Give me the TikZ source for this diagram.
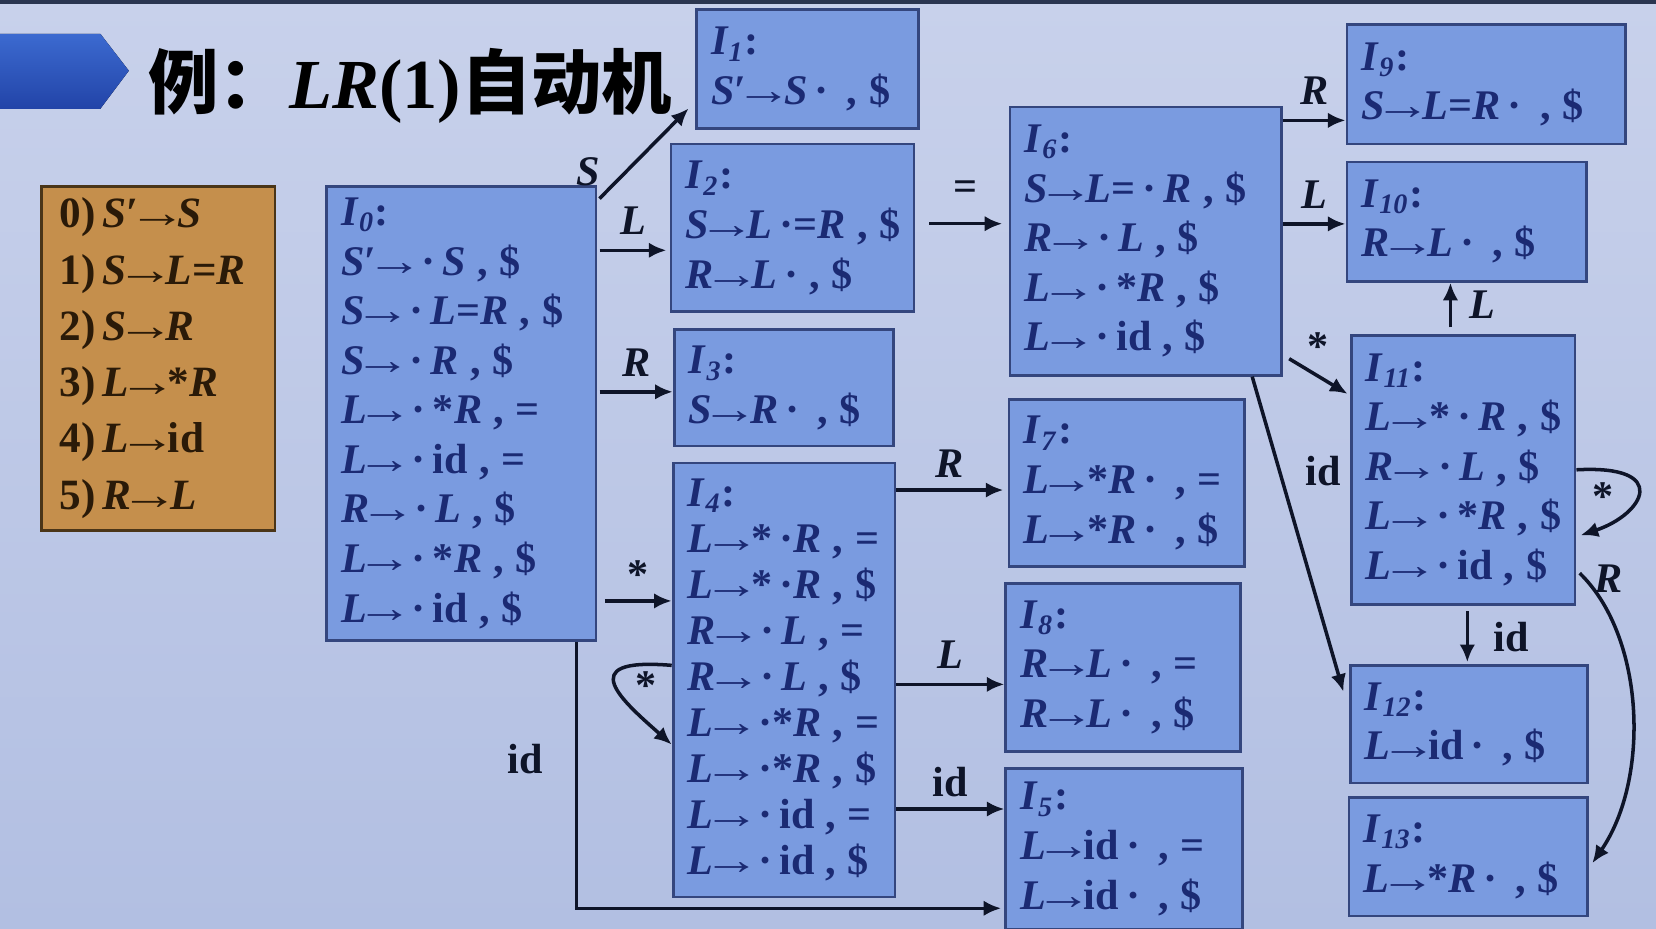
\documentclass[tikz,border=0pt]{standalone}
\usepackage{fontspec}
\setmainfont{Liberation Serif}
\newfontfamily\cjk{Noto Sans CJK SC}
\usetikzlibrary{positioning,calc,arrows.meta}

\definecolor{bgTop}{HTML}{C8D1EB}
\definecolor{bgBot}{HTML}{B2BFE2}
\definecolor{topLine}{HTML}{2A3550}
\definecolor{boxFill}{HTML}{7A9BE0}
\definecolor{boxLine}{HTML}{34467E}
\definecolor{boxInk}{HTML}{1B2A73}
\definecolor{ruleFill}{HTML}{C58F4C}
\definecolor{ruleLine}{HTML}{4A3518}
\definecolor{ruleInk}{HTML}{2A1A08}
\definecolor{bannerTop}{HTML}{3C6AD0}
\definecolor{bannerBot}{HTML}{2244A8}
\definecolor{arrowInk}{HTML}{0E1428}

\newdimen\pxu
\pxu=0.01056cm

\newcommand{\nS}{\textit{S}}
\newcommand{\nL}{\textit{L}}
\newcommand{\nR}{\textit{R}}
\newcommand{\nSp}{\textit{S}′}
\newcommand{\gto}{\kern-3pt\scalebox{1.35}[1]{→}\kern-2.5pt}
\newcommand{\dt}{\,·\,}
\newcommand{\la}[1]{\kern3.2pt,\kern3.3pt#1}
\newcommand{\iset}[1]{\textit{I}\textsubscript{\textit{#1}}:}

\tikzset{
  itemSet/.style 2 args={rectangle, draw=boxLine, fill=boxFill, line width=0.8pt,
    anchor=north west, minimum width={#1*\pxu}, minimum height={#2*\pxu},
    text width={(#1-28)*\pxu}, inner xsep={14*\pxu}, align=left, text=boxInk},
  rules/.style={itemSet={221}{325}, draw=ruleLine, fill=ruleFill, text=ruleInk,
    text width={(221-34)*\pxu}, inner xsep={17*\pxu},
    font=\fontsize{12.3}{16}\selectfont\bfseries},
  goOp/.style={-{Latex[length=5pt,width=4.4pt]}, line width=1pt, draw=arrowInk},
  lbl/.style={text=arrowInk, inner sep=1pt}
}

\begin{document}
\begin{tikzpicture}[x=0.01056cm, y=-0.01056cm, font=\fontsize{12}{14.1}\selectfont\bfseries]

  \useasboundingbox (0,0) rectangle (1568,879);
  \fill[top color=bgTop, bottom color=bgBot] (0,0) rectangle (1568,879);
  \fill[topLine] (0,0) rectangle (1568,4);

  % title
  \fill[top color=bannerTop, bottom color=bannerBot] (0,32) -- (95,32) -- (122,67) -- (95,103) -- (0,103) -- cycle;
  \node[anchor=base west, inner sep=0, font=\fontsize{20}{24}\selectfont\bfseries] (title) at (140,103)
    {{\cjk 例：}\textit{LR}(1){\cjk 自动机}};

  % grammar
  \node[rules] (gram) at (38,175) {0)\kern2pt\nSp\gto\nS\\ 1)\kern2pt\nS\gto\nL=\nR\\ 2)\kern2pt\nS\gto\nR\\ 3)\kern2pt\nL\gto*\nR\\ 4)\kern2pt\nL\gto id\\ 5)\kern2pt\nR\gto\nL};

  % item sets
  \node[itemSet={255}{427}] (I0) at (308,175) {\iset{0}\\ \nSp\gto\dt\nS\la{\$}\\ \nS\gto\dt\nL=\nR\la{\$}\\ \nS\gto\dt\nR\la{\$}\\ \nL\gto\dt*\nR\la{=}\\ \nL\gto\dt id\la{=}\\ \nR\gto\dt\nL\la{\$}\\ \nL\gto\dt*\nR\la{\$}\\ \nL\gto\dt id\la{\$}};
  \node[itemSet={210}{112}] (I1) at (658,8) {\iset{1}\\ \nSp\gto\nS\dt\la{\$}};
  \node[itemSet={230}{159}] (I2) at (634,135) {\iset{2}\\ \nS\gto\nL\,·=\nR\la{\$}\\ \nR\gto\nL\,·\la{\$}};
  \node[itemSet={208}{110}] (I3) at (637,311) {\iset{3}\\ \nS\gto\nR\dt\la{\$}};
  \node[itemSet={210}{411}, font=\fontsize{12}{13.1}\selectfont\bfseries] (I4) at (636,437) {\iset{4}\\ \nL\gto*\,·\nR\la{=}\\ \nL\gto*\,·\nR\la{\$}\\ \nR\gto\dt\nL\la{=}\\ \nR\gto\dt\nL\la{\$}\\ \nL\gto\,·*\nR\la{=}\\ \nL\gto\,·*\nR\la{\$}\\ \nL\gto\dt id\la{=}\\ \nL\gto\dt id\la{\$}};
  \node[itemSet={224}{153}] (I5) at (951,726) {\iset{5}\\ \nL\gto id\dt\la{=}\\ \nL\gto id\dt\la{\$}};
  \node[itemSet={257}{254}] (I6) at (955,100) {\iset{6}\\ \nS\gto\nL=\dt\nR\la{\$}\\ \nR\gto\dt\nL\la{\$}\\ \nL\gto\dt*\nR\la{\$}\\ \nL\gto\dt id\la{\$}};
  \node[itemSet={223}{158}] (I7) at (954,377) {\iset{7}\\ \nL\gto*\nR\dt\la{=}\\ \nL\gto*\nR\dt\la{\$}};
  \node[itemSet={222}{159}] (I8) at (951,551) {\iset{8}\\ \nR\gto\nL\dt\la{=}\\ \nR\gto\nL\dt\la{\$}};
  \node[itemSet={264}{113}] (I9) at (1274,22) {\iset{9}\\ \nS\gto\nL=\nR\dt\la{\$}};
  \node[itemSet={227}{113}] (I10) at (1274,152) {\iset{10}\\ \nR\gto\nL\dt\la{\$}};
  \node[itemSet={212}{255}] (I11) at (1278,316) {\iset{11}\\ \nL\gto*\dt\nR\la{\$}\\ \nR\gto\dt\nL\la{\$}\\ \nL\gto\dt*\nR\la{\$}\\ \nL\gto\dt id\la{\$}};
  \node[itemSet={225}{111}] (I12) at (1277,629) {\iset{12}\\ \nL\gto id\dt\la{\$}};
  \node[itemSet={226}{112}] (I13) at (1276,754) {\iset{13}\\ \nL\gto*\nR\dt\la{\$}};

  % goto edges
  \draw[goOp] ($(I0.north east)+(2,13)$) -- ($(I1.south west)+(-6,-20)$) node[lbl, pos=0.3, left=6pt] {\nS};
  \draw[goOp] ($(I0.north east)+(2,62)$) -- ($(I2.west|-I0.north east)+(-3,62)$) node[lbl, midway, above=3pt] {\nL};
  \draw[goOp] ($(I0.north east)+(2,196)$) -- ($(I3.west|-I0.north east)+(0,196)$) node[lbl, midway, above=3pt] {\nR};
  \draw[goOp] ($(I0.north east)+(7,394)$) -- ($(I4.west|-I0.north east)+(0,394)$) node[lbl, midway, above=2pt] {*};
  \draw[goOp] ($(I0.south east)+(-20,0)$) |- ($(I5.north west)+(-3,134)$) node[lbl, pos=0.22, left=8pt] {id};
  \draw[goOp] ($(I4.north west)+(0,193)$) .. controls +(-96,-8) and +(-45,-40) .. ($(I4.north west)+(0,268)$) node[lbl, pos=0.5, right=4pt] {*};

  \draw[goOp] ($(I4.north east)+(0,27)$) -- ($(I7.west|-I4.north east)+(-4,27)$) node[lbl, midway, above=2pt] {\nR};
  \draw[goOp] ($(I4.north east)+(0,211)$) -- ($(I8.west|-I4.north east)+(0,211)$) node[lbl, midway, above=3pt] {\nL};
  \draw[goOp] ($(I4.north east)+(0,329)$) -- ($(I5.west|-I4.north east)+(0,329)$) node[lbl, midway, above=2pt] {id};
  \draw[goOp] ($(I2.east)+(13,-4)$) -- ($(I6.west|-I2.east)+(-6,-4)$) node[lbl, midway, above=5pt] {=};

  \draw[goOp] ($(I6.north east)+(0,14)$) -- ($(I9.west|-I6.north east)+(0,14)$) node[lbl, midway, above=3pt] {\nR};
  \draw[goOp] ($(I6.north east)+(0,112)$) -- ($(I10.west|-I6.north east)+(0,112)$) node[lbl, midway, above=3pt] {\nL};
  \draw[goOp] ($(I6.south east)+(6,-17)$) -- ($(I11.north west)+(-2,57)$) node[lbl, midway, above=3pt] {*};
  \draw[goOp] ($(I6.south east)+(-29,0)$) -- ($(I12.north west)+(-5,26)$) node[lbl, pos=0.3, right=6pt] {id};

  \draw[goOp] ($(I11.north)+(-12,-6)$) -- ($(I11.north|-I10.south)+(-12,0)$) node[lbl, midway, right=4pt] {\nL};
  \draw[goOp] ($(I11.east)+(0,0)$) .. controls +(90,-5) and +(60,-20) .. ($(I11.east)+(4,62)$) node[lbl, pos=0.55, left=5pt] {*};
  \draw[goOp] ($(I11.south)+(4,5)$) -- ($(I11.south|-I12.north)+(4,-2)$) node[lbl, midway, right=6pt] {id};
  \draw[goOp] ($(I11.south east)+(3,-31)$) .. controls +(62,60) and +(55,-80) .. ($(I13.east)+(3,6)$) node[lbl, pos=0.03, right=1pt] {\nR};

\end{tikzpicture}
\end{document}
